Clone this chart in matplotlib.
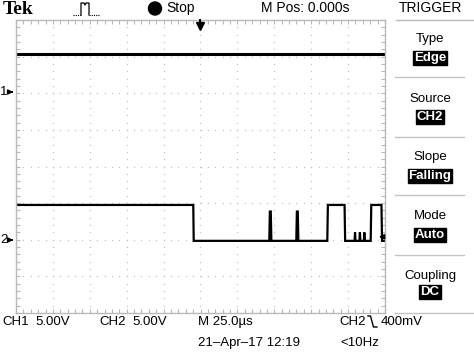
import numpy as np
import matplotlib.pyplot as plt
from matplotlib.patches import Circle

# scope settings
us_per_div = 25.0
ch1_volts_per_div = 5.0
ch2_volts_per_div = 5.0
ch1_offset = 2.0     # ground marker, divisions
ch2_offset = -2.0
trig_level = 0.4     # V on CH2

# CH1 trace (flat high)
ch1_t = [-125, 125]
ch1_v = [5.3, 5.3]

# CH2 trace (us, V)
ch2_t = [-125, -4.9, -4.6, 46.6, 47.0, 47.6, 48.0, 64.9, 65.3, 65.9, 66.3,
         85.9, 86.3, 97.6, 98.0, 104.4, 104.7, 105.0, 107.7, 108.0, 108.3,
         110.7, 111.0, 111.3, 115.3, 115.7, 122.6, 123.0, 125]
ch2_v = [4.75, 4.75, -0.15, -0.15, 3.85, 3.85, -0.15, -0.15, 3.85, 3.85, -0.15,
         -0.15, 4.75, 4.75, -0.15, -0.15, 1.0, -0.15, -0.15, 1.0, -0.15,
         -0.15, 1.0, -0.15, -0.15, 4.75, 4.75, -0.15, -0.15]

menu_titles = ["Type", "Source", "Slope", "Mode", "Coupling"]
menu_values = ["Edge", "CH2", "Falling", "Auto", "DC"]

FONT = "Liberation Sans"
GRID = "#b8b8b8"
DOT = "#c4c4c4"

fig = plt.figure(figsize=(4.74, 3.55), dpi=100)
fig.patch.set_facecolor("white")

# graticule
g = fig.add_axes([16/474, 1-313/355, 369/474, 293/355])
g.set_xlim(-5, 5)
g.set_ylim(-4, 4)
g.set_facecolor("none")
for s in g.spines.values():
    s.set_color(GRID)
    s.set_linewidth(1)
g.set_xticks(np.arange(-5, 5.01, 0.2))
g.set_yticks(np.arange(-4, 4.01, 0.2))
g.tick_params(which="both", direction="in", top=True, right=True, length=3,
              color=GRID, width=0.8, labelbottom=False, labelleft=False)
dots = np.arange(-4, 4.01, 0.2)
for k in range(-4, 5):
    g.plot(np.full_like(dots, k), dots, ls="none", marker="s", ms=0.9,
           mew=0, color=DOT)
dots_x = np.arange(-5, 5.01, 0.2)
for k in range(-3, 4):
    g.plot(dots_x, np.full_like(dots_x, k), ls="none", marker="s", ms=0.9,
           mew=0, color=DOT)

g.plot(np.array(ch1_t)/us_per_div, np.array(ch1_v)/ch1_volts_per_div + ch1_offset,
       color="black", lw=2.2, solid_joinstyle="miter")
g.plot(np.array(ch2_t)/us_per_div, np.array(ch2_v)/ch2_volts_per_div + ch2_offset,
       color="black", lw=1.6, solid_joinstyle="miter")

# overlay in pixel coordinates
o = fig.add_axes([0, 0, 1, 1], zorder=5)
o.set_xlim(0, 474)
o.set_ylim(355, 0)
o.axis("off")
o.patch.set_alpha(0)

def txt(x, y, s, size=9.5, ha="left", **kw):
    o.text(x, y, s, fontsize=size, ha=ha, va="center", family=FONT, **kw)

o.text(3, 9.5, "Tek", fontsize=14, fontweight="bold", family="Liberation Serif",
       ha="left", va="center")
# acquisition icon
o.plot([73, 81], [15, 15], color="black", lw=0.8, ls=(0, (1, 1)))
o.plot([81, 81, 84, 85, 86, 89, 89], [15, 3, 3, 5, 3, 3, 15], color="black", lw=0.9)
o.plot([89, 100], [15, 15], color="black", lw=0.8, ls=(0, (1, 1)))
o.add_patch(Circle((155, 8.5), 6.5, color="black"))
txt(166, 8, "Stop", size=10)
txt(305, 8, "M Pos: 0.000s", size=10, ha="center")
txt(430, 8, "TRIGGER", size=10, ha="center")

# trigger position arrow
o.plot([200, 200], [20, 25], color="black", lw=1.4)
o.plot([200], [26], marker="v", ms=5.5, color="black")

# right menu
o.plot([396, 474], [20, 20], color="#bbbbbb", lw=1)
title_y = [39, 99, 157, 216, 276]
value_y = [58, 117, 176, 235, 292]
for t, v, ty, vy in zip(menu_titles, menu_values, title_y, value_y):
    txt(430, ty, t, size=9.5, ha="center")
    o.text(430, vy, v, fontsize=9.5, ha="center", va="center", family=FONT,
           color="white", fontweight="bold",
           bbox=dict(boxstyle="square,pad=0.08", fc="black", ec="black"))
for sy in [77, 137, 195, 255]:
    o.plot([395, 464], [sy, sy], color="#c4c4c4", lw=1)
o.plot([395, 474], [313, 313], color="#c4c4c4", lw=1)

# ground markers
for label, yy in [("1", 92), ("2", 240)]:
    txt(0, yy, label, size=9.5)
    o.annotate("", xy=(16, yy), xytext=(9, yy),
               arrowprops=dict(arrowstyle="-|>", color="black", lw=1.1,
                               mutation_scale=7))
# trigger level marker
trig_px = 166.5 - (trig_level/ch2_volts_per_div + ch2_offset) * 36.6
o.annotate("", xy=(376, trig_px), xytext=(386, trig_px),
           arrowprops=dict(arrowstyle="-|>", color="black", lw=1.2, mutation_scale=7))

# bottom readouts
txt(2, 322, "CH1", size=9.5)
txt(35, 322, "5.00V", size=9.5)
txt(99, 322, "CH2", size=9.5)
txt(132, 322, "5.00V", size=9.5)
txt(198, 322, "M 25.0\u00b5s", size=9.5)
txt(198, 343, "21\u2013Apr\u201317 12:19", size=9.5)
txt(339, 322, "CH2", size=9.5)
o.plot([368, 370.5, 373.5, 377], [316, 316, 327, 327], color="black", lw=1)
txt(381, 322, "400mV", size=9.5)
txt(340, 343, "<10Hz", size=9.5)

fig.savefig("out.png", dpi=100)
